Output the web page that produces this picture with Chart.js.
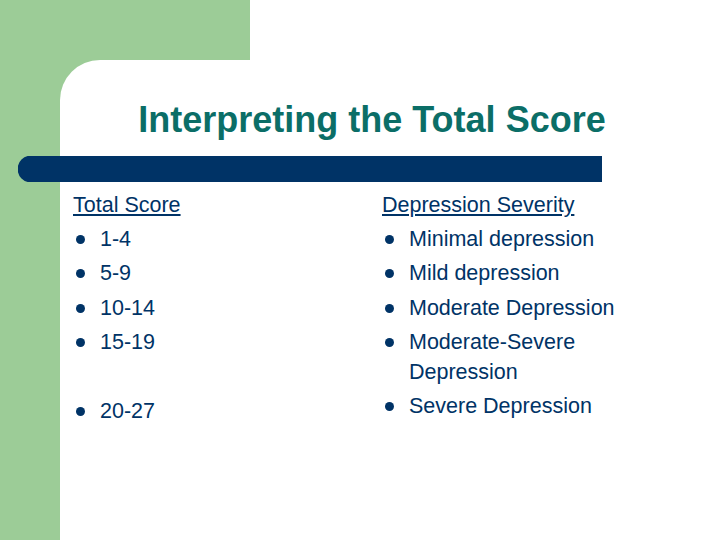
<!DOCTYPE html>
<html>
<head>
<meta charset="utf-8">
<script src="https://cdn.jsdelivr.net/npm/chart.js@4"></script>
<style>
  body { margin: 0; width: 720px; height: 540px; position: relative; overflow: hidden; background: #9ccc97; font-family: "Liberation Sans", Arial, sans-serif; }
  #panel { position: absolute; left: 60px; top: 60px; width: 660px; height: 480px; background: #fff; border-top-left-radius: 40px; }
  #panel-top { position: absolute; left: 250px; top: 0; width: 470px; height: 61px; background: #fff; }
  #bar-wrap { position: absolute; left: 18px; top: 156px; width: 584px; height: 26px; }
  h1 { position: absolute; left: 60px; width: 624px; top: 99px; margin: 0; text-align: center; font-size: 36px; color: #0b6e67; font-weight: bold; }
  .col { position: absolute; top: 190px; color: #003366; font-size: 21.5px; }
  .col .head { text-decoration: underline; line-height: 30px; margin-bottom: 4px; }
  .col ul { margin: 0; padding: 0; list-style: none; }
  .col li { position: relative; padding-left: 27px; line-height: 30px; margin-bottom: 4.3px; }
  .col li::before { content: ""; position: absolute; left: 3px; top: 11px; width: 9px; height: 9px; border-radius: 50%; background: #003366; }
</style>
</head>
<body>
<div id="panel"></div>
<div id="panel-top"></div>
<div id="bar-wrap"><canvas id="bar"></canvas></div>
<h1>Interpreting the Total Score</h1>
<div class="col" style="left:73px"><div class="head" id="h1"></div><ul id="l1"></ul></div>
<div class="col" style="left:382px; width:250px"><div class="head" id="h2"></div><ul id="l2"></ul></div>
<script>
const scoreHeader = 'Total Score';
const scoreRanges = ['1-4', '5-9', '10-14', '15-19', '20-27'];
const severityHeader = 'Depression Severity';
const severities = ['Minimal depression', 'Mild depression', 'Moderate Depression', 'Moderate-Severe Depression', 'Severe Depression'];

function fillList(headId, listId, head, items, spacerAt) {
  document.getElementById(headId).textContent = head;
  const ul = document.getElementById(listId);
  items.forEach((t, i) => {
    const li = document.createElement('li');
    li.textContent = t;
    if (i === spacerAt) li.style.marginTop = '39px';
    ul.appendChild(li);
  });
}
fillList('h1', 'l1', scoreHeader, scoreRanges, 4);
fillList('h2', 'l2', severityHeader, severities, -1);

// decorative rule under the title, drawn as a single horizontal bar
new Chart(document.getElementById('bar'), {
  type: 'bar',
  data: { labels: [''], datasets: [{ data: [1], backgroundColor: '#003366', borderRadius: { topLeft: 13, bottomLeft: 13 }, borderSkipped: false, barPercentage: 1, categoryPercentage: 1 }] },
  options: {
    indexAxis: 'y', responsive: true, maintainAspectRatio: false, animation: false,
    layout: { padding: 0 },
    plugins: { legend: { display: false }, tooltip: { enabled: false } },
    scales: { x: { display: false, min: 0, max: 1 }, y: { display: false } }
  }
});
</script>
</body>
</html>
